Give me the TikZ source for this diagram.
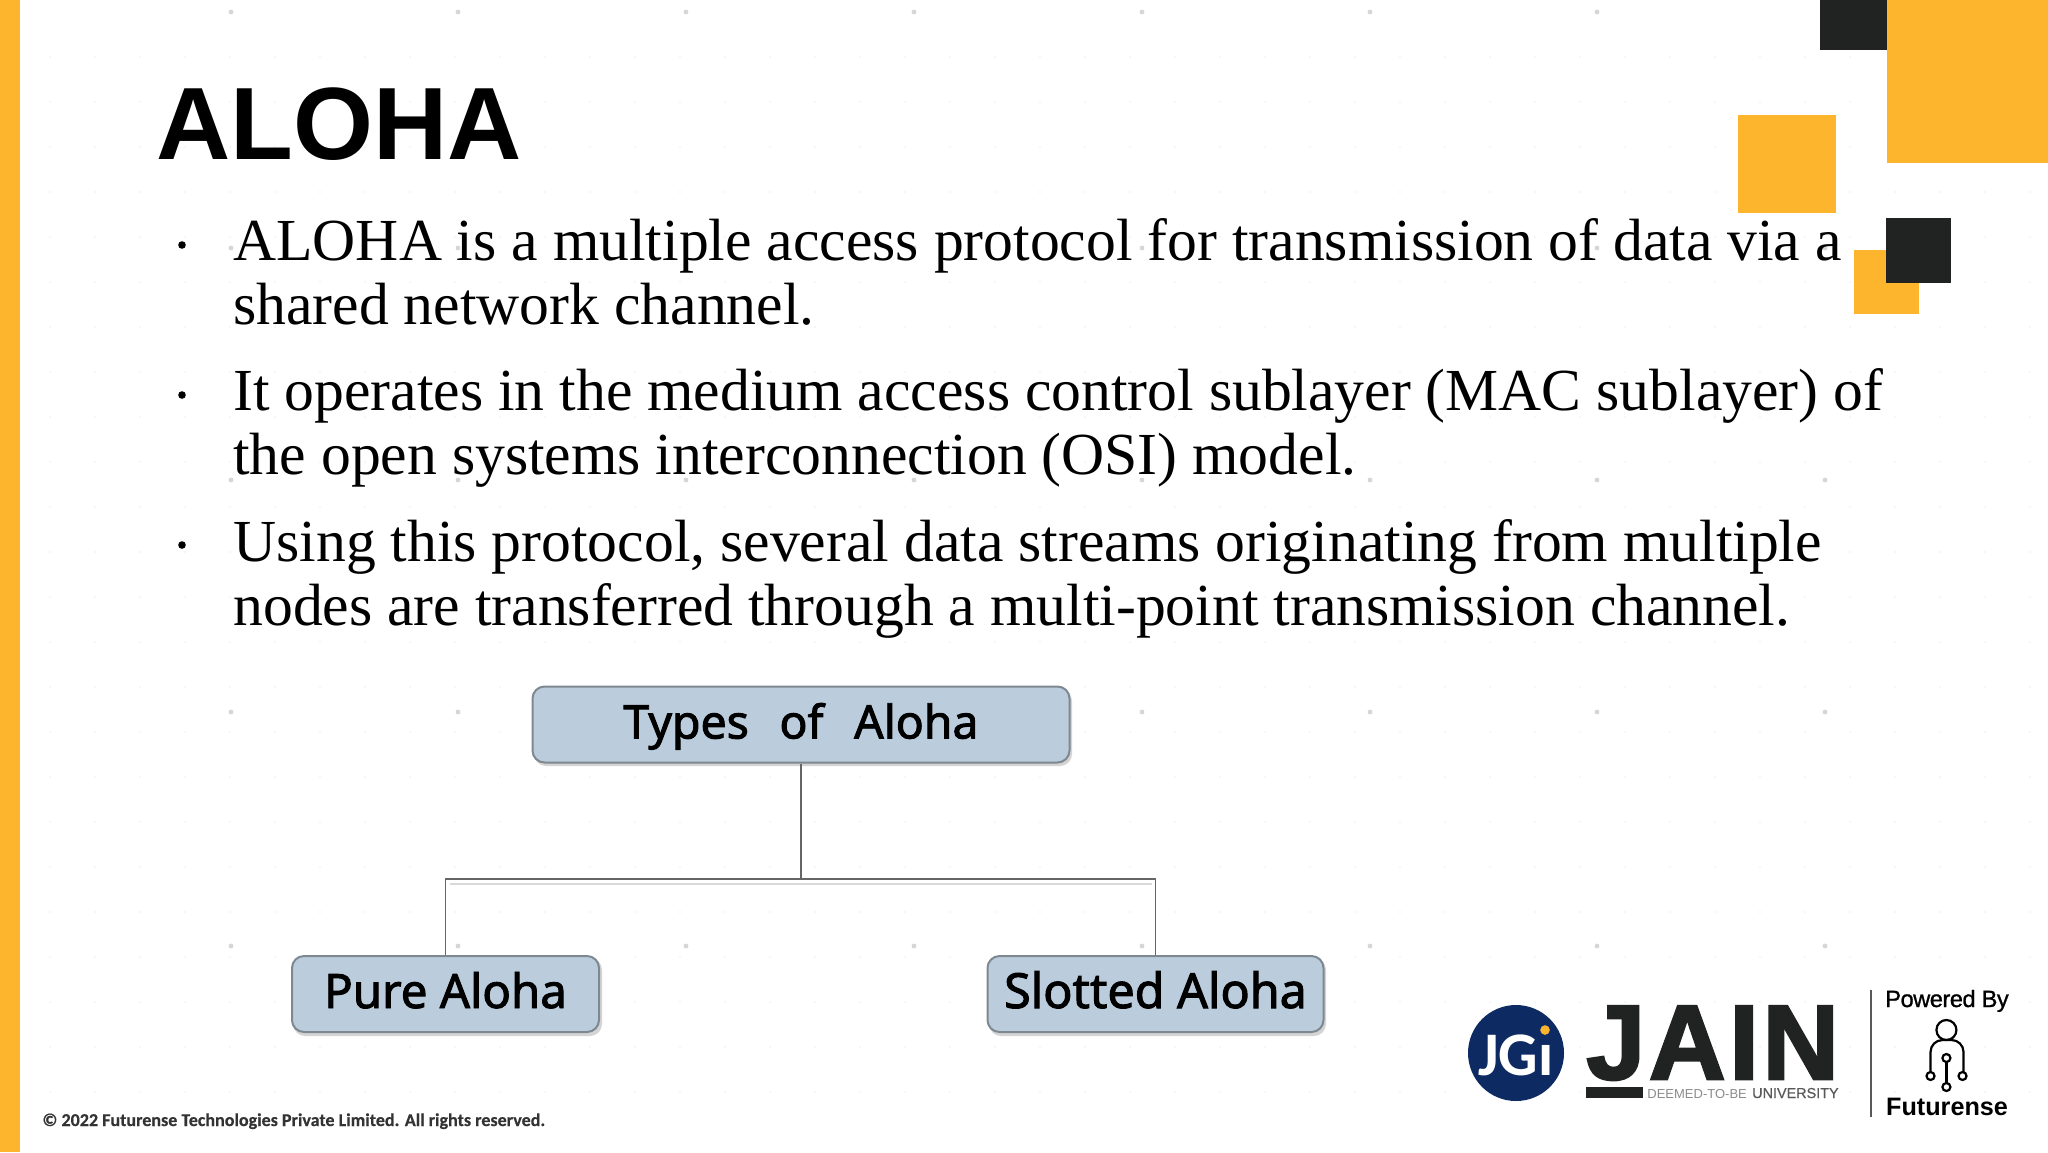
\documentclass[tikz,border=0pt]{standalone}
\usepackage{fontspec}
\setmainfont{Liberation Serif}
\newfontfamily\arialf{Liberation Sans}
\newfontfamily\heavyf[FakeBold=2.5,LetterSpace=3.5]{Liberation Sans Bold}
\newfontfamily\medf[FakeBold=0.5]{Liberation Sans}
\newfontfamily\powf[FakeBold=1,LetterSpace=-2]{Liberation Sans}
\newfontfamily\boxf[FakeBold=2]{Noto Sans}
\newfontfamily\calf{Carlito}
\newfontfamily\footf[FakeBold=0.4]{Carlito Bold}
\definecolor{accent}{HTML}{FDB52D}
\definecolor{inkdark}{HTML}{212322}
\definecolor{boxfill}{HTML}{BBCDDD}
\definecolor{boxline}{HTML}{7D8890}
\definecolor{navy}{HTML}{0E2A63}
\tikzset{
  block/.style={fill=accent,draw=none},
  darkblock/.style={fill=inkdark,draw=none},
  bodyline/.style={anchor=base west,inner sep=0pt,font=\fontsize{29.82}{29.82}\selectfont,text=black},
  bulletdot/.style={circle,fill=black,inner sep=0pt,minimum size=3.8pt},
  flowbox/.style={draw=boxline,line width=1pt,rounded corners=6pt,fill=boxfill,inner sep=0pt,text=black,
     text height=14pt,text depth=0pt,font=\boxf\fontsize{23.2}{23.2}\selectfont},
  flowline/.style={draw=black!60,line width=.8pt},
  boxshadow/.style={fill=black!17,rounded corners=6pt},
}
\begin{document}
\begin{tikzpicture}[x=0.5pt,y=-0.5pt]
\useasboundingbox (0,0) rectangle (2048,1152);
\fill[white] (0,0) rectangle (2048,1152);
% background dots
\foreach \gx in {50,95,...,2030}
  \foreach \gy in {57,102,...,1120}
    \fill[black!4] (\gx,\gy) circle (.6pt);
\foreach \gx in {231,458,686,914,1142,1370,1597,1825}
  \foreach \gy in {12,248,480,712,946}
    \fill[black!16] (\gx,\gy) circle (1.2pt);
% decor
\fill[block] (0,0) rectangle (20,1152);
\fill[darkblock] (1820,0) rectangle (1887,50);
\fill[block] (1887,0) rectangle (2048,163);
\fill[block] (1738,115) rectangle (1836,213);
\fill[block] (1854,250) rectangle (1919,314);
\fill[darkblock] (1886,218) rectangle (1951,283);
% title
\node[anchor=base west,inner sep=0pt,font=\arialf\bfseries\fontsize{51.4}{51.4}\selectfont] (title) at (156,159) {ALOHA};
% bullets
\node[bulletdot] (b1) at (182,245) {};
\node[bulletdot] (b2) at (182,395) {};
\node[bulletdot] (b3) at (182,545) {};
\node[bodyline] (l1) at (233,260) {ALOHA is a multiple access protocol for transmission of data via a};
\node[bodyline] (l2) at (233,324) {shared network channel.};
\node[bodyline] (l3) at (233,410) {It operates in the medium access control sublayer (MAC sublayer) of};
\node[bodyline] (l4) at (233,474) {the open systems interconnection (OSI) model.};
\node[bodyline] (l5) at (233,561) {Using this protocol, several data streams originating from multiple};
\node[bodyline] (l6) at (233,625) {nodes are transferred through a multi-point transmission channel.};
% flow boxes: shadows
\fill[boxshadow] (534,689) rectangle (1072,766);
\fill[boxshadow] (293,958) rectangle (602,1036);
\fill[boxshadow] (989,958) rectangle (1326,1036);
\node[flowbox,minimum width=268.5pt,minimum height=38pt] (types) at (801,724.5) {Types\hspace{.4em} of\hspace{.4em} Aloha};
\node[flowbox,minimum width=153.5pt,minimum height=38pt] (pure) at (445.5,994) {\fontsize{23.7}{23.7}\selectfont Pure Aloha};
\node[flowbox,minimum width=168pt,minimum height=38pt] (slotted) at (1155.5,994) {\fontsize{24.2}{24.2}\selectfont Slotted Aloha};
\coordinate (bus) at (801,879);
\coordinate (busl) at (450,884);
\coordinate (busr) at (1152,884);
\draw[black!15,line width=.8pt] (busl) -- (busr);
\draw[flowline] (types.south) -- (bus);
\draw[flowline] (pure.north) |- (bus);
\draw[flowline] (slotted.north) |- (bus);
% footer
\node[anchor=base west,inner sep=0pt,font=\footf\fontsize{9.02}{9.5}\selectfont,text=black!80] (foot) at (42,1126) {© 2022 Futurense Technologies Private Limited. All rights reserved.};
% logos
\fill[navy] (1516,1053) circle (24pt);
\node[anchor=base,inner sep=0pt,font=\calf\bfseries\fontsize{31}{31}\selectfont,text=white] (jgi) at (1516,1075) {JGı};
\fill[accent] (1545,1030) circle (2.4pt);
\node[anchor=base west,inner sep=0pt,font=\heavyf\fontsize{53}{53}\selectfont,text=inkdark] (jain) at (1586,1079) {JAIN};
\fill[inkdark] (1586,1087) rectangle (1643,1098);
\node[anchor=base west,inner sep=0pt,font=\arialf\fontsize{6.5}{8}\selectfont,text=black!45] (deemed) at (1647,1098) {DEEMED-TO-BE};
\node[anchor=base east,inner sep=0pt,font=\medf\fontsize{7.2}{8}\selectfont,text=black!65] (univ) at (1839,1098) {UNIVERSITY};
\draw[black!65,line width=.9pt] (1871,990) -- (1871,1117);
\node[anchor=base,inner sep=0pt,font=\powf\fontsize{11.8}{12}\selectfont,text=black] (powered) at (1947,1007) {Powered By};
\node[anchor=base,inner sep=0pt,font=\arialf\bfseries\fontsize{12.6}{13}\selectfont,text=black] (fut) at (1947,1115) {Futurense};
\begin{scope}[black,line width=1.1pt]
\draw (1946.4,1030) circle (5pt);
\draw (1930.5,1072) -- (1930.5,1052) arc[start angle=180,end angle=270,radius=12] -- (1951.5,1040) arc[start angle=-90,end angle=0,radius=12] -- (1963.5,1072);
\draw (1930.5,1076) circle (2pt);
\draw (1962.5,1076) circle (2pt);
\draw (1946.4,1058) circle (2pt);
\draw (1946.4,1087) circle (2pt);
\draw (1946.4,1062) -- (1946.4,1083);
\end{scope}
\end{tikzpicture}
\end{document}
